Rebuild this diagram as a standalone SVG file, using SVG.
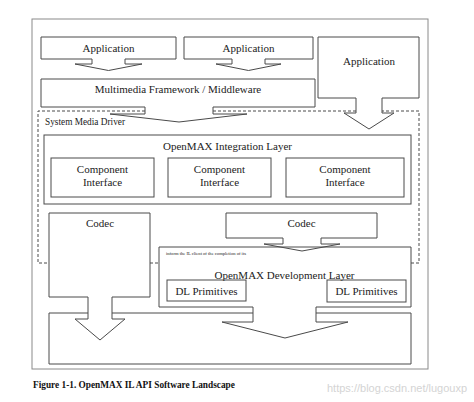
<svg xmlns="http://www.w3.org/2000/svg" width="474" height="402" viewBox="0 0 474 402">
<style>
.box{fill:none;stroke:#4a4a4a;stroke-width:1}
.dash{fill:none;stroke:#4a4a4a;stroke-width:1;stroke-dasharray:3 2}
.t{font-family:"Liberation Serif","Times New Roman",serif;font-size:11px;fill:#222;text-anchor:middle}
.s{font-family:"Liberation Serif","Times New Roman",serif;fill:#222}
</style>
<rect width="474" height="402" fill="#fff"/>
<g id="frame"><rect x="32" y="19" width="396" height="350" fill="none" stroke="#8a8a8a" stroke-width="1"/></g>
<g id="system-media-driver">
<path class="dash" d="M145,111 H38 V263 H49 M150,263 H159 M411,263 H419 V111 H382 M356,111 H213"/>
<text class="s" x="45" y="125" font-size="9.3">System Media Driver</text>
</g>
<g id="app1">
<path class="box" d="M41,37 H176 V59 H125 V64 H142 L108.5,70.5 L75,64 H92 V59 H41 Z"/>
<text class="t" x="108.5" y="52">Application</text>
</g>
<g id="app2">
<path class="box" d="M184,37 H313 V59 H265 V64 H281 L248.5,70.5 L216,64 H232 V59 H184 Z"/>
<text class="t" x="248.5" y="52">Application</text>
</g>
<g id="app3">
<path class="box" d="M318,37 H419 V98 H382 V113 H394 L369,129 L344,113 H356 V98 H318 Z"/>
<text class="t" x="369" y="65">Application</text>
</g>
<g id="multimedia-framework">
<path class="box" d="M41,79 H315 V107 H213 V114 H247 L179,122 L110,114 H145 V107 H41 Z"/>
<text class="t" x="178" y="93">Multimedia Framework / Middleware</text>
</g>
<g id="integration-layer">
<rect class="box" x="44" y="135" width="367" height="69"/>
<text class="t" x="227.5" y="150">OpenMAX Integration Layer</text>
</g>
<g id="component1">
<rect class="box" x="51" y="158" width="103" height="39"/>
<text class="t" x="102.5" y="173">Component</text>
<text class="t" x="102.5" y="186">Interface</text>
</g>
<g id="component2">
<rect class="box" x="168" y="158" width="103" height="39"/>
<text class="t" x="219.5" y="173">Component</text>
<text class="t" x="219.5" y="186">Interface</text>
</g>
<g id="component3">
<rect class="box" x="286" y="158" width="118" height="39"/>
<text class="t" x="345" y="173">Component</text>
<text class="t" x="345" y="186">Interface</text>
</g>
<g id="bottom-box">
<path class="box" d="M88,313 H49 V364 H411 V313 H316 M253,313 H112"/>
</g>
<g id="codec-left">
<path class="box" d="M49,213 H150 V297 H112 V319 H125 L100,340 L75,319 H88 V297 H49 Z"/>
<text class="t" x="100" y="227">Codec</text>
</g>
<g id="codec-right">
<path class="box" d="M226,213 H377 V238 H321 V244 H340 L302,251 L264,244 H283 V238 H226 Z"/>
<text class="t" x="301.5" y="227">Codec</text>
</g>
<g id="development-layer">
<path class="box" d="M159,247 H411 V307 H316 V322 H348 L285,338 L222,322 H253 V307 H159 Z"/>
<text class="s" x="166" y="255" font-size="4.6">inform the IL client of the completion of its</text>
<text class="t" x="284.5" y="279">OpenMAX Development Layer</text>
</g>
<g id="dl-primitives-1">
<rect class="box" x="167" y="280" width="79" height="21"/>
<text class="t" x="206.5" y="294.5">DL Primitives</text>
</g>
<g id="dl-primitives-2">
<rect class="box" x="327" y="280" width="79" height="22"/>
<text class="t" x="366.5" y="294.5">DL Primitives</text>
</g>
<g id="connectors"></g>
<text x="33" y="388" font-family="'Liberation Serif','Times New Roman',serif" font-size="9.3" font-weight="bold" fill="#111">Figure 1-1. OpenMAX IL API Software Landscape</text>
<text x="327" y="392" font-family="'Liberation Sans',Arial,sans-serif" font-size="11" fill="#d4d4d4">https://blog.csdn.net/lugouxp</text>
</svg>
